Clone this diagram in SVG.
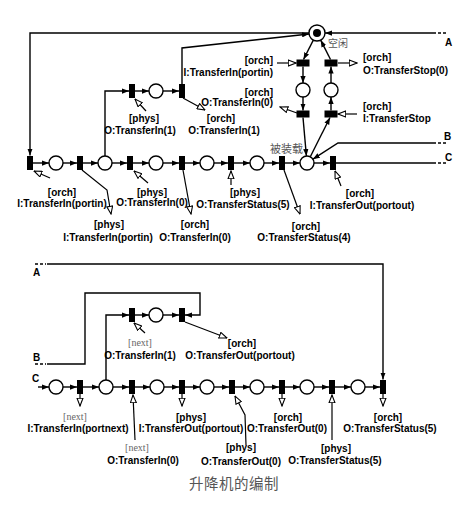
<svg xmlns="http://www.w3.org/2000/svg" width="474" height="510" viewBox="0 0 474 510">
<style>
.t{fill:#000}
.p{fill:#fff;stroke:#000;stroke-width:1.4}
.c{fill:none;stroke:#000;stroke-width:1.4;marker-end:url(#a)}
.s{fill:none;stroke:#000;stroke-width:1.4}
.d{fill:none;stroke:#000;stroke-width:1.4;stroke-dasharray:3 2}
.l{fill:none;stroke:#000;stroke-width:1.2;marker-end:url(#h)}
.b{font-family:"Liberation Sans",Arial,sans-serif;font-weight:bold;font-size:10px;fill:#000}
.n{font-family:"Liberation Serif","Times New Roman",serif;font-size:10px;fill:#666}
.cj{font-family:"Noto Sans CJK SC",sans-serif;fill:#555}
.m{text-anchor:middle}
.e{text-anchor:end}
</style>
<defs>
<marker id="a" viewBox="0 0 8 6" refX="8" refY="3" markerWidth="7" markerHeight="5.5" markerUnits="userSpaceOnUse" orient="auto"><path d="M0,0 L8,3 L0,6 z" fill="#000"/></marker>
<marker id="h" viewBox="0 0 10 8" refX="9.3" refY="4" markerWidth="9" markerHeight="7.2" markerUnits="userSpaceOnUse" orient="auto"><path d="M0.7,0.7 L9.3,4 L0.7,7.3 z" fill="#fff" stroke="#000" stroke-width="1.2"/></marker>
</defs>
<rect width="474" height="510" fill="#fff"/>

<g id="connectors">
<!-- top: main row chain y=163 -->
<line class="c" x1="33" y1="163" x2="49" y2="163"/>
<line class="c" x1="63" y1="163" x2="77" y2="163"/>
<line class="c" x1="83" y1="163" x2="98" y2="163"/>
<line class="c" x1="112" y1="163" x2="127" y2="163"/>
<line class="c" x1="133" y1="163" x2="149" y2="163"/>
<line class="c" x1="163" y1="163" x2="179" y2="163"/>
<line class="c" x1="185" y1="163" x2="200" y2="163"/>
<line class="c" x1="214" y1="163" x2="228" y2="163"/>
<line class="c" x1="234" y1="163" x2="250" y2="163"/>
<line class="c" x1="264" y1="163" x2="279" y2="163"/>
<line class="c" x1="285" y1="163" x2="300" y2="163"/>
<line class="c" x1="314" y1="163" x2="330" y2="163"/>
<line class="s" x1="336" y1="163" x2="436" y2="163"/>
<line class="d" x1="438" y1="163" x2="447" y2="163"/>
<!-- upper row y=91 -->
<polyline class="c" points="105,156 105,91 129,91"/>
<line class="c" x1="135" y1="91" x2="149" y2="91"/>
<line class="c" x1="163" y1="91" x2="179" y2="91"/>
<polyline class="c" points="182,84 182,48 309,34"/>
<!-- outer loop from idle place to first transition -->
<polyline class="c" points="309,33 30,33 30,155.5"/>
<!-- A in top -->
<line class="c" x1="436" y1="33" x2="325" y2="33"/>
<line class="d" x1="438" y1="33" x2="447" y2="33"/>
<!-- right column -->
<line class="c" x1="313.3" y1="40.1" x2="303.5" y2="59.5"/>
<line class="c" x1="303" y1="66.5" x2="303" y2="83"/>
<line class="c" x1="303" y1="97" x2="303" y2="110.5"/>
<line class="c" x1="303" y1="117.5" x2="306.4" y2="156"/>
<line class="c" x1="310.3" y1="156.8" x2="330" y2="117.5"/>
<line class="c" x1="331" y1="110.5" x2="331" y2="97"/>
<line class="c" x1="331" y1="83" x2="331" y2="66.5"/>
<line class="c" x1="330.5" y1="59.5" x2="320.7" y2="40.1"/>
<!-- B top -->
<polyline class="c" points="436,143 338,143 312.9,159.2"/>
<line class="d" x1="438" y1="143" x2="447" y2="143"/>

<!-- bottom: A -->
<line class="d" x1="35" y1="264" x2="46" y2="264"/>
<polyline class="c" points="47,264 383,264 383,379.5"/>
<!-- bottom: B -->
<line class="d" x1="35" y1="364" x2="46" y2="364"/>
<polyline class="c" points="47,364 85,364 85,293 200,293 200,315 185,315"/>
<!-- bottom upper sub-row y=315 -->
<polyline class="c" points="106,380 106,315 129,315"/>
<line class="c" x1="135" y1="315" x2="149" y2="315"/>
<line class="c" x1="163" y1="315" x2="179" y2="315"/>
<!-- bottom row y=387 -->
<line class="c" x1="38" y1="387" x2="49" y2="387"/>
<line class="c" x1="63" y1="387" x2="77" y2="387"/>
<line class="c" x1="83" y1="387" x2="99" y2="387"/>
<line class="c" x1="113" y1="387" x2="129" y2="387"/>
<line class="c" x1="135" y1="387" x2="150" y2="387"/>
<line class="c" x1="164" y1="387" x2="179" y2="387"/>
<line class="c" x1="185" y1="387" x2="200" y2="387"/>
<line class="c" x1="214" y1="387" x2="229" y2="387"/>
<line class="c" x1="235" y1="387" x2="250" y2="387"/>
<line class="c" x1="264" y1="387" x2="279" y2="387"/>
<line class="c" x1="285" y1="387" x2="300" y2="387"/>
<line class="c" x1="314" y1="387" x2="329" y2="387"/>
<line class="c" x1="335" y1="387" x2="351" y2="387"/>
<line class="c" x1="365" y1="387" x2="380" y2="387"/>

<!-- label arrows (hollow heads) -->
<g id="label-arrows">
<line class="l" x1="50" y1="178" x2="34" y2="171"/>
<polyline class="l" points="82,170 107,190 111,214"/>
<line class="l" x1="148" y1="183" x2="134" y2="171"/>
<line class="l" x1="183" y1="170" x2="191" y2="214"/>
<line class="l" x1="231" y1="185" x2="231" y2="171"/>
<line class="l" x1="284" y1="170" x2="300" y2="214"/>
<line class="l" x1="341" y1="186" x2="335" y2="171"/>
<line class="l" x1="146" y1="111" x2="135" y2="99"/>
<line class="l" x1="183" y1="98" x2="205" y2="110"/>
<line class="l" x1="277" y1="63" x2="296" y2="63"/>
<line class="l" x1="297" y1="113" x2="280" y2="107"/>
<line class="l" x1="338" y1="63" x2="357" y2="63"/>
<line class="l" x1="357" y1="114" x2="338" y2="114"/>
<line class="l" x1="145" y1="333" x2="134" y2="323"/>
<line class="l" x1="185" y1="322" x2="227" y2="338"/>
<line class="l" x1="80" y1="394" x2="80" y2="406"/>
<line class="l" x1="135" y1="440" x2="133" y2="395"/>
<line class="l" x1="182" y1="394" x2="182" y2="406"/>
<polyline class="l" points="246,445 245,415 235,396"/>
<line class="l" x1="282" y1="394" x2="282" y2="406"/>
<line class="l" x1="332" y1="440" x2="332" y2="395"/>
<line class="l" x1="383" y1="394" x2="383" y2="406"/>
</g>
</g>

<!-- ===== top section nodes ===== -->
<g id="p-idle"><circle class="p" cx="317" cy="33" r="8" stroke-width="1.7"/><circle cx="317" cy="33" r="4" fill="#000"/><text class="cj" x="328" y="47" font-size="10">空闲</text></g>
<g id="t1"><rect class="t" x="27" y="156" width="6" height="14"/><text class="b m" x="62" y="195.5">[orch]</text><text class="b m" x="62" y="206.5">I:TransferIn(portin)</text></g>
<g id="p1"><circle class="p" cx="56" cy="163" r="7"/></g>
<g id="t2"><rect class="t" x="77" y="156" width="6" height="14"/><text class="b m" x="109" y="227.5">[phys]</text><text class="b m" x="108" y="240.5">I:TransferIn(portin)</text></g>
<g id="p2"><circle class="p" cx="105" cy="163" r="7"/></g>
<g id="t3"><rect class="t" x="127" y="156" width="6" height="14"/><text class="b m" x="152" y="195.5">[phys]</text><text class="b m" x="152" y="205.5">O:TransferIn(0)</text></g>
<g id="p3"><circle class="p" cx="156" cy="163" r="7"/></g>
<g id="t4"><rect class="t" x="179" y="156" width="6" height="14"/><text class="b m" x="195" y="227.5">[orch]</text><text class="b m" x="195" y="240.5">O:TransferIn(0)</text></g>
<g id="p4"><circle class="p" cx="207" cy="163" r="7"/></g>
<g id="t5"><rect class="t" x="228" y="156" width="6" height="14"/><text class="b m" x="245" y="196">[phys]</text><text class="b m" x="243" y="207.5">O:TransferStatus(5)</text></g>
<g id="p5"><circle class="p" cx="257" cy="163" r="7"/></g>
<g id="t6"><rect class="t" x="279" y="156" width="6" height="14"/><text class="b m" x="306" y="230">[orch]</text><text class="b m" x="304" y="240.5">O:TransferStatus(4)</text></g>
<g id="p-loaded"><circle class="p" cx="307" cy="163" r="7"/><text class="cj" x="270" y="153" font-size="11">被装载</text></g>
<g id="t7"><rect class="t" x="330" y="156" width="6" height="14"/><text class="b m" x="360" y="196.5">[orch]</text><text class="b m" x="362" y="208.5">I:TransferOut(portout)</text></g>

<g id="tu1"><rect class="t" x="129" y="84" width="6" height="14"/><text class="b m" x="144" y="121.5">[phys]</text><text class="b m" x="140" y="133.5">O:TransferIn(1)</text></g>
<g id="pu1"><circle class="p" cx="156" cy="91" r="7"/></g>
<g id="tu2"><rect class="t" x="179" y="84" width="6" height="14"/><text class="b m" x="221" y="121.5">[orch]</text><text class="b m" x="224" y="133.5">O:TransferIn(1)</text></g>

<g id="tl1"><rect class="t" x="296.5" y="59.5" width="13" height="7"/><text class="b e" x="273" y="64">[orch]</text><text class="b e" x="273" y="75.5">I:TransferIn(portin)</text></g>
<g id="pl1"><circle class="p" cx="303" cy="90" r="7"/></g>
<g id="tl2"><rect class="t" x="296.5" y="110.5" width="13" height="7"/><text class="b e" x="273" y="95.5">[orch]</text><text class="b e" x="273" y="106">O:TransferIn(0)</text></g>
<g id="tr1"><rect class="t" x="324.5" y="59.5" width="13" height="7"/><text class="b" x="363" y="61">[orch]</text><text class="b" x="363" y="73.5">O:TransferStop(0)</text></g>
<g id="pr1"><circle class="p" cx="331" cy="90" r="7"/></g>
<g id="tr2"><rect class="t" x="324.5" y="110.5" width="13" height="7"/><text class="b" x="363" y="110">[orch]</text><text class="b" x="363" y="122">I:TransferStop</text></g>

<g id="ends-top"><text class="b" x="445" y="46">A</text><text class="b" x="444" y="140">B</text><text class="b" x="445" y="161">C</text></g>

<!-- ===== bottom section nodes ===== -->
<g id="ends-bottom"><text class="b" x="33" y="276">A</text><text class="b" x="33" y="361">B</text><text class="b" x="32" y="382">C</text></g>
<g id="bu1"><rect class="t" x="129" y="308" width="6" height="14"/><text class="n m" x="140" y="346">[next]</text><text class="b m" x="140" y="358.5">O:TransferIn(1)</text></g>
<g id="bup1"><circle class="p" cx="156" cy="315" r="7"/></g>
<g id="bu2"><rect class="t" x="179" y="308" width="6" height="14"/><text class="b m" x="242" y="347">[orch]</text><text class="b m" x="240" y="358.5">O:TransferOut(portout)</text></g>

<g id="bp1"><circle class="p" cx="56" cy="387" r="7"/></g>
<g id="bt1"><rect class="t" x="77" y="380" width="6" height="14"/><text class="n m" x="75" y="420">[next]</text><text class="b m" x="78" y="431.5">I:TransferIn(portnext)</text></g>
<g id="bp2"><circle class="p" cx="106" cy="387" r="7"/></g>
<g id="bt2"><rect class="t" x="129" y="380" width="6" height="14"/><text class="n m" x="137" y="451">[next]</text><text class="b m" x="143" y="463.5">O:TransferIn(0)</text></g>
<g id="bp3"><circle class="p" cx="157" cy="387" r="7"/></g>
<g id="bt3"><rect class="t" x="179" y="380" width="6" height="14"/><text class="b m" x="191" y="420.5">[phys]</text><text class="b m" x="191" y="431.5">I:TransferOut(portout)</text></g>
<g id="bp4"><circle class="p" cx="207" cy="387" r="7"/></g>
<g id="bt4"><rect class="t" x="229" y="380" width="6" height="14"/><text class="b m" x="241" y="450.5">[phys]</text><text class="b m" x="241" y="464.5">O:TransferOut(0)</text></g>
<g id="bp5"><circle class="p" cx="257" cy="387" r="7"/></g>
<g id="bt5"><rect class="t" x="279" y="380" width="6" height="14"/><text class="b m" x="288" y="420.5">[orch]</text><text class="b m" x="287" y="431.5">O:TransferOut(0)</text></g>
<g id="bp6"><circle class="p" cx="307" cy="387" r="7"/></g>
<g id="bt6"><rect class="t" x="329" y="380" width="6" height="14"/><text class="b m" x="336" y="451.5">[phys]</text><text class="b m" x="335" y="463.5">O:TransferStatus(5)</text></g>
<g id="bp7"><circle class="p" cx="358" cy="387" r="7"/></g>
<g id="bt7"><rect class="t" x="380" y="380" width="6" height="14"/><text class="b m" x="388" y="420.5">[orch]</text><text class="b m" x="390" y="431.5">O:TransferStatus(5)</text></g>

<g id="caption"><text class="cj m" x="234" y="489" font-size="14.5" letter-spacing="0.5" fill="#444">升降机的编制</text></g>
</svg>
